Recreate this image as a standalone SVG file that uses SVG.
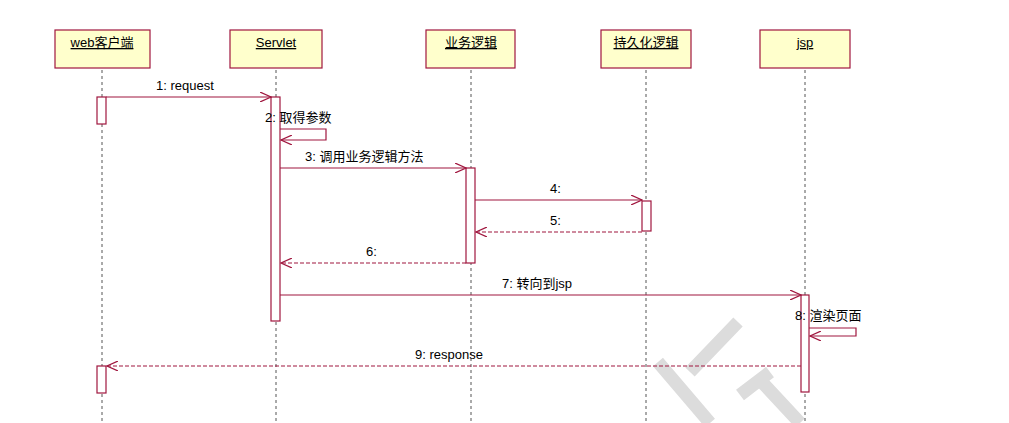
<svg xmlns="http://www.w3.org/2000/svg" width="1009" height="423" viewBox="0 0 1009 423">
<style>
.box{fill:#ffffcc;stroke:#a0163e;stroke-width:1.2}
.t{font-family:"Liberation Sans","Noto Sans CJK SC",sans-serif;font-size:13px;fill:#000}
.h{text-decoration:underline;text-anchor:middle}
.life{stroke:#555;stroke-dasharray:3,3;stroke-width:1}
.act{fill:#fff;stroke:#a0163e;stroke-width:1.2}
.m{stroke:#a0163e;stroke-width:1.2;fill:none}
.d{stroke-dasharray:4,2}
.wm{stroke:#dcdcdc;stroke-width:13;fill:none}
</style>
<defs><marker id="a" markerWidth="12" markerHeight="10" refX="11" refY="5" orient="auto" markerUnits="userSpaceOnUse"><path d="M0,0 L11,5 L0,10" fill="none" stroke="#a0163e" stroke-width="1.2"/></marker></defs>
<g id="watermark">
<path class="wm" d="M738,322 L690,372 M658,362 L710,423 M770,372 L740,395 M760,380 L800,423"/>
</g>
<g id="lifelines">
<line class="life" x1="102" y1="70" x2="102" y2="423"/>
<line class="life" x1="276" y1="70" x2="276" y2="423"/>
<line class="life" x1="471" y1="70" x2="471" y2="423"/>
<line class="life" x1="646" y1="70" x2="646" y2="423"/>
<line class="life" x1="805" y1="70" x2="805" y2="423"/>
</g>
<g id="n-web"><rect class="box" x="55" y="30" width="95" height="38"/><text class="t h" x="102" y="47">web客户端</text></g>
<g id="n-servlet"><rect class="box" x="230" y="30" width="92" height="38"/><text class="t h" x="276" y="47">Servlet</text></g>
<g id="n-biz"><rect class="box" x="426" y="30" width="89" height="38"/><text class="t h" x="471" y="47">业务逻辑</text></g>
<g id="n-persist"><rect class="box" x="601" y="30" width="90" height="38"/><text class="t h" x="646" y="47">持久化逻辑</text></g>
<g id="n-jsp"><rect class="box" x="760" y="30" width="90" height="38"/><text class="t h" x="805" y="47">jsp</text></g>
<g id="activations">
<rect class="act" x="97" y="97" width="9" height="27"/>
<rect class="act" x="97" y="366" width="9" height="27"/>
<rect class="act" x="271" y="97" width="9" height="224"/>
<rect class="act" x="466" y="168" width="9" height="95"/>
<rect class="act" x="642" y="201" width="9" height="30"/>
<rect class="act" x="801" y="295" width="8" height="97"/>
</g>
<g id="connectors">
<line class="m" x1="106" y1="97" x2="271" y2="97" marker-end="url(#a)"/>
<path class="m" d="M280,129 H326 V140 H281" marker-end="url(#a)"/>
<line class="m" x1="280" y1="168" x2="466" y2="168" marker-end="url(#a)"/>
<line class="m" x1="475" y1="200" x2="642" y2="200" marker-end="url(#a)"/>
<line class="m d" x1="642" y1="232" x2="476" y2="232" marker-end="url(#a)"/>
<line class="m d" x1="466" y1="263" x2="281" y2="263" marker-end="url(#a)"/>
<line class="m" x1="280" y1="295" x2="801" y2="295" marker-end="url(#a)"/>
<path class="m" d="M809,328 H856 V336 H810" marker-end="url(#a)"/>
<line class="m d" x1="801" y1="366" x2="107" y2="366" marker-end="url(#a)"/>
</g>
<g id="labels">
<text class="t" x="156" y="90">1: request</text>
<text class="t" x="265" y="122">2: 取得参数</text>
<text class="t" x="305" y="161">3: 调用业务逻辑方法</text>
<text class="t" x="550" y="193">4:</text>
<text class="t" x="550" y="225">5:</text>
<text class="t" x="366" y="256">6:</text>
<text class="t" x="502" y="288">7: 转向到jsp</text>
<text class="t" x="795" y="320">8: 渲染页面</text>
<text class="t" x="415" y="359">9: response</text>
</g>
</svg>
